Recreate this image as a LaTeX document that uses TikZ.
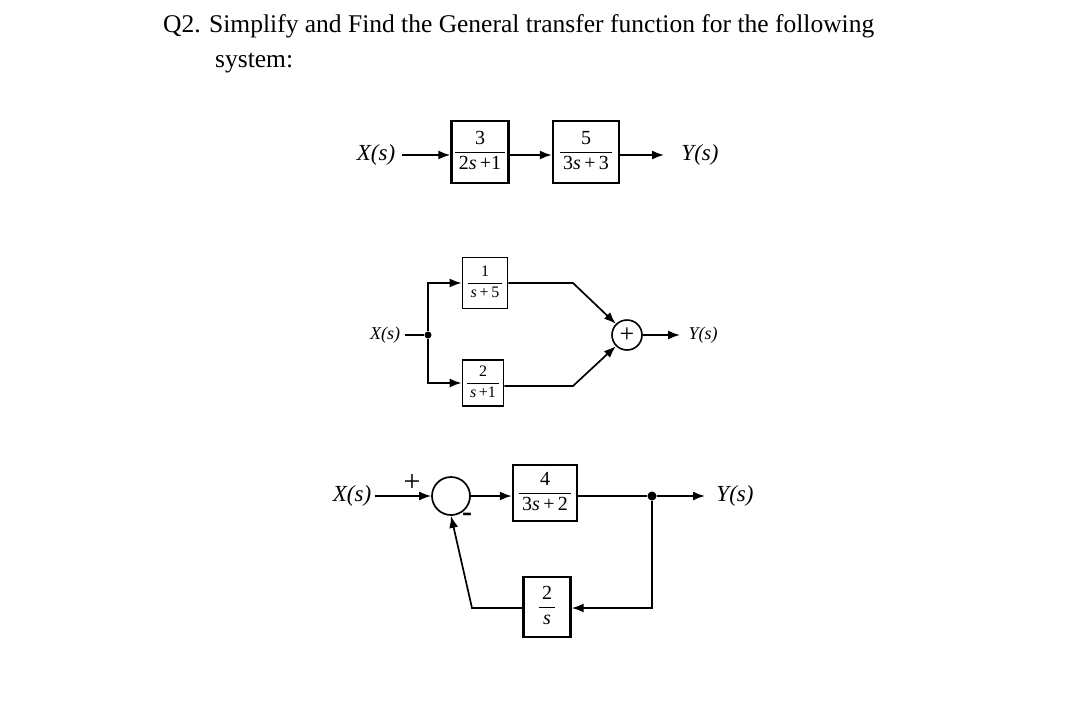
\documentclass[tikz,border=0pt]{standalone}
\usepackage{fontspec}
\setmainfont{Liberation Serif}
\usetikzlibrary{arrows.meta}
\newcommand{\fr}[2]{\renewcommand{\arraystretch}{1.15}\begin{tabular}{@{\,}c@{\,}}#1\\\hline #2\end{tabular}}
\begin{document}
\begin{tikzpicture}[x=1pt,y=-1pt,
  blk/.style={draw,line width=2.4pt,minimum height=#1,inner sep=0pt},
  ln/.style={line width=1.7pt},
  ar/.style={ln,-{Latex[length=12pt,width=9pt]}},
  dotn/.style={circle,fill,inner sep=0pt,minimum size=9pt},
  lab/.style={font=\fontsize{23}{25}\selectfont\itshape}]
\useasboundingbox (0,0) rectangle (1080,718);
\node[anchor=base west,font=\fontsize{25.5}{28}\selectfont,inner sep=0pt] (t1) at (163,32) {Q2. Simplify and Find the General transfer function for the following};
\node[anchor=base west,font=\fontsize{25.5}{28}\selectfont,inner sep=0pt] (t2) at (215,67) {system:};
% diagram 1
\begin{scope}[font=\fontsize{20}{22}\selectfont]
\node[lab] (x1) at (376,155) {X(s)};
\node[blk=62pt,minimum width=57pt] (a1) at (480,152) {\fr{3}{2\textit{s}\,+1}};
\node[blk=62pt,minimum width=66pt] (a2) at (586,152) {\fr{5}{3\textit{s}\,+\,3}};
\node[lab] (y1) at (700,155) {Y(s)};
\end{scope}
\draw[ar] (x1.east)+(3,0) -- (a1.west|-x1);
\draw[ar] (a1.east|-x1) -- (a2.west|-x1);
\draw[ar] (a2.east|-x1) -- (664,155);
% diagram 2
\begin{scope}[font=\fontsize{16}{18}\selectfont]
\node[font=\fontsize{18}{20}\selectfont\itshape] (x2) at (385,335) {X(s)};
\node[dotn,minimum size=7pt] (d2) at (428,335) {};
\node[blk=51pt,minimum width=45pt,line width=1.8pt] (b1) at (485,283) {\fr{1}{\textit{s}\,+\,5}};
\node[blk=46pt,minimum width=41pt,line width=1.8pt] (b2) at (483,383) {\fr{2}{\textit{s}\,+1}};
\node[draw,circle,line width=1.6pt,minimum size=30pt,inner sep=0pt,font=\fontsize{26}{26}\selectfont] (s2) at (627,335) {+};
\node[font=\fontsize{18}{20}\selectfont\itshape] (y2) at (703,335) {Y(s)};
\end{scope}
\draw[ln] (405,335) -- (d2);
\draw[ar] (d2) |- (b1.west);
\draw[ar] (d2) |- (b2.west);
\coordinate (c1) at (573,283);
\coordinate (c2) at (573,386);
\draw[ar] (b1.east) -- (c1) -- (s2.north west);
\draw[ar] (b2.east|-c2) -- (c2) -- (s2.south west);
\draw[ar] (s2.east) -- (680,335);
% diagram 3
\begin{scope}[font=\fontsize{20}{22}\selectfont]
\node[lab] (x3) at (352,496) {X(s)};
\node[draw,circle,line width=1.7pt,minimum size=38pt,inner sep=0pt] (s3) at (451,496) {};
\node[font=\fontsize{30}{30}\selectfont] (pl) at (412,483) {+};
\node[font=\fontsize{30}{30}\selectfont\bfseries] (mi) at (467,517) {-};
\node[blk=56pt,minimum width=64pt] (g) at (545,493) {\fr{4}{3\textit{s}\,+\,2}};
\node[dotn] (d3) at (652,496) {};
\node[lab] (y3) at (735,496) {Y(s)};
\node[blk=60pt,minimum width=47pt] (h) at (547,607) {\fr{2}{\textit{s}}};
\end{scope}
\draw[ar] (x3.east) -- (s3.west);
\draw[ar] (s3.east) -- (g.west|-s3);
\draw[ln] (g.east|-s3) -- (d3);
\draw[ar] (d3) -- (705,496);
\draw[ar] (d3) |- (h.east|-0,608);
\coordinate (c3) at (472,608);
\draw[ar] (h.west|-c3) -- (c3) -- (s3.south);
\end{tikzpicture}
\end{document}
